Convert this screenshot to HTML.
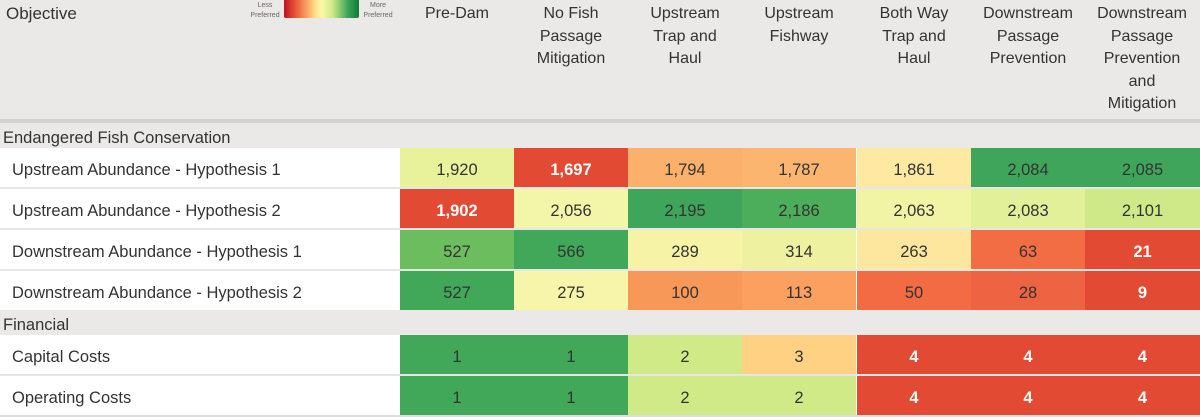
<!DOCTYPE html>
<html><head><style>
body{margin:0;width:1200px;height:417px;background:#fff;font-family:"Liberation Sans",sans-serif;color:#333;position:relative;overflow:hidden}
div{position:absolute;box-sizing:border-box}
.hd{top:0;left:0;width:1200px;height:119px;background:#eae9e7}
.hl{top:119px;left:0;width:1200px;height:4px;background:#d3d2d0}
.cat{left:0;width:1200px;background:#eae9e7;font-size:16.5px;padding-left:3px;line-height:30px}
.ch{top:3px;width:114px;text-align:center;font-size:16px;line-height:22.5px;color:#333}
.rl{left:12px;font-size:16.5px;line-height:44px}
.c{height:39px;width:114px;text-align:center;font-size:16.5px;line-height:44px;color:#333}
.w{color:#fff;font-weight:bold}
.sep{left:0;width:1200px;height:2px;background:#e6e6e6}
</style></head><body>
<div class="hd"></div><div class="hl"></div>
<div style="left:6px;top:3px;font-size:17px;line-height:22px">Objective</div>
<div style="left:248px;top:1px;font-size:7px;line-height:10px;color:#666;text-align:center;width:34px">Less<br>Preferred</div>
<div style="left:284px;top:0;width:75px;height:18px;border-radius:0 0 2px 2px;background:linear-gradient(90deg,#c0101f,#f26b43 20%,#fee08b 42%,#fbf9a8 50%,#cfe888 65%,#3ea55a 85%,#0f7a3a)"></div>
<div style="left:360px;top:1px;font-size:7px;line-height:10px;color:#666;text-align:center;width:36px">More<br>Preferred</div>
<div class="ch" style="left:400px">Pre-Dam</div>
<div class="ch" style="left:514px">No Fish<br>Passage<br>Mitigation</div>
<div class="ch" style="left:628px">Upstream<br>Trap and<br>Haul</div>
<div class="ch" style="left:742px">Upstream<br>Fishway</div>
<div class="ch" style="left:857px">Both Way<br>Trap and<br>Haul</div>
<div class="ch" style="left:971px">Downstream<br>Passage<br>Prevention</div>
<div class="ch" style="left:1085px">Downstream<br>Passage<br>Prevention<br>and<br>Mitigation</div>

<div class="cat" style="top:123px;height:25px">Endangered Fish Conservation</div>
<div class="cat" style="top:310px;height:25px">Financial</div>

<div class="rl" style="top:148px">Upstream Abundance - Hypothesis 1</div>
<div class="rl" style="top:189px">Upstream Abundance - Hypothesis 2</div>
<div class="rl" style="top:230px">Downstream Abundance - Hypothesis 1</div>
<div class="rl" style="top:271px">Downstream Abundance - Hypothesis 2</div>
<div class="rl" style="top:335px">Capital Costs</div>
<div class="rl" style="top:376px">Operating Costs</div>
<div class="sep" style="top:187px"></div><div class="sep" style="top:228px"></div><div class="sep" style="top:269px"></div><div class="sep" style="top:374px"></div><div class="sep" style="top:415px;background:#ddd"></div>

<div class="c" style="top:148px;left:400px;background:#e8f29b">1,920</div>
<div class="c w" style="top:148px;left:514px;background:#e34a33">1,697</div>
<div class="c" style="top:148px;left:628px;background:#fbb06c">1,794</div>
<div class="c" style="top:148px;left:742px;background:#fbb56f">1,787</div>
<div class="c" style="top:148px;left:857px;background:#fde9a2">1,861</div>
<div class="c" style="top:148px;left:971px;background:#3ea55a">2,084</div>
<div class="c" style="top:148px;left:1085px;width:115px;background:#3ea55a">2,085</div>

<div class="c w" style="top:189px;left:400px;background:#e34a33">1,902</div>
<div class="c" style="top:189px;left:514px;background:#f3f5a8">2,056</div>
<div class="c" style="top:189px;left:628px;background:#3ea55a">2,195</div>
<div class="c" style="top:189px;left:742px;background:#4cad5a">2,186</div>
<div class="c" style="top:189px;left:857px;background:#f0f4a4">2,063</div>
<div class="c" style="top:189px;left:971px;background:#e2f09a">2,083</div>
<div class="c" style="top:189px;left:1085px;width:115px;background:#cfe888">2,101</div>

<div class="c" style="top:230px;left:400px;background:#6bbd5e">527</div>
<div class="c" style="top:230px;left:514px;background:#41a85a">566</div>
<div class="c" style="top:230px;left:628px;background:#f6f3a6">289</div>
<div class="c" style="top:230px;left:742px;background:#eef2a0">314</div>
<div class="c" style="top:230px;left:857px;background:#fde79f">263</div>
<div class="c" style="top:230px;left:971px;background:#f26d43">63</div>
<div class="c w" style="top:230px;left:1085px;width:115px;background:#e34a33">21</div>

<div class="c" style="top:271px;left:400px;background:#41a85a">527</div>
<div class="c" style="top:271px;left:514px;background:#f6f5a9">275</div>
<div class="c" style="top:271px;left:628px;background:#f89858">100</div>
<div class="c" style="top:271px;left:742px;background:#fba05f">113</div>
<div class="c" style="top:271px;left:857px;background:#f26b43">50</div>
<div class="c" style="top:271px;left:971px;background:#ee6341">28</div>
<div class="c w" style="top:271px;left:1085px;width:115px;background:#e34a33">9</div>

<div class="c" style="top:335px;left:400px;background:#41a85a">1</div>
<div class="c" style="top:335px;left:514px;background:#41a85a">1</div>
<div class="c" style="top:335px;left:628px;background:#d0ea87">2</div>
<div class="c" style="top:335px;left:742px;background:#fed282">3</div>
<div class="c w" style="top:335px;left:857px;background:#e34a33">4</div>
<div class="c w" style="top:335px;left:971px;background:#e34a33">4</div>
<div class="c w" style="top:335px;left:1085px;width:115px;background:#e34a33">4</div>

<div class="c" style="top:376px;left:400px;background:#41a85a">1</div>
<div class="c" style="top:376px;left:514px;background:#41a85a">1</div>
<div class="c" style="top:376px;left:628px;background:#d0ea87">2</div>
<div class="c" style="top:376px;left:742px;background:#d0ea87">2</div>
<div class="c w" style="top:376px;left:857px;background:#e34a33">4</div>
<div class="c w" style="top:376px;left:971px;background:#e34a33">4</div>
<div class="c w" style="top:376px;left:1085px;width:115px;background:#e34a33">4</div>
</body></html>
